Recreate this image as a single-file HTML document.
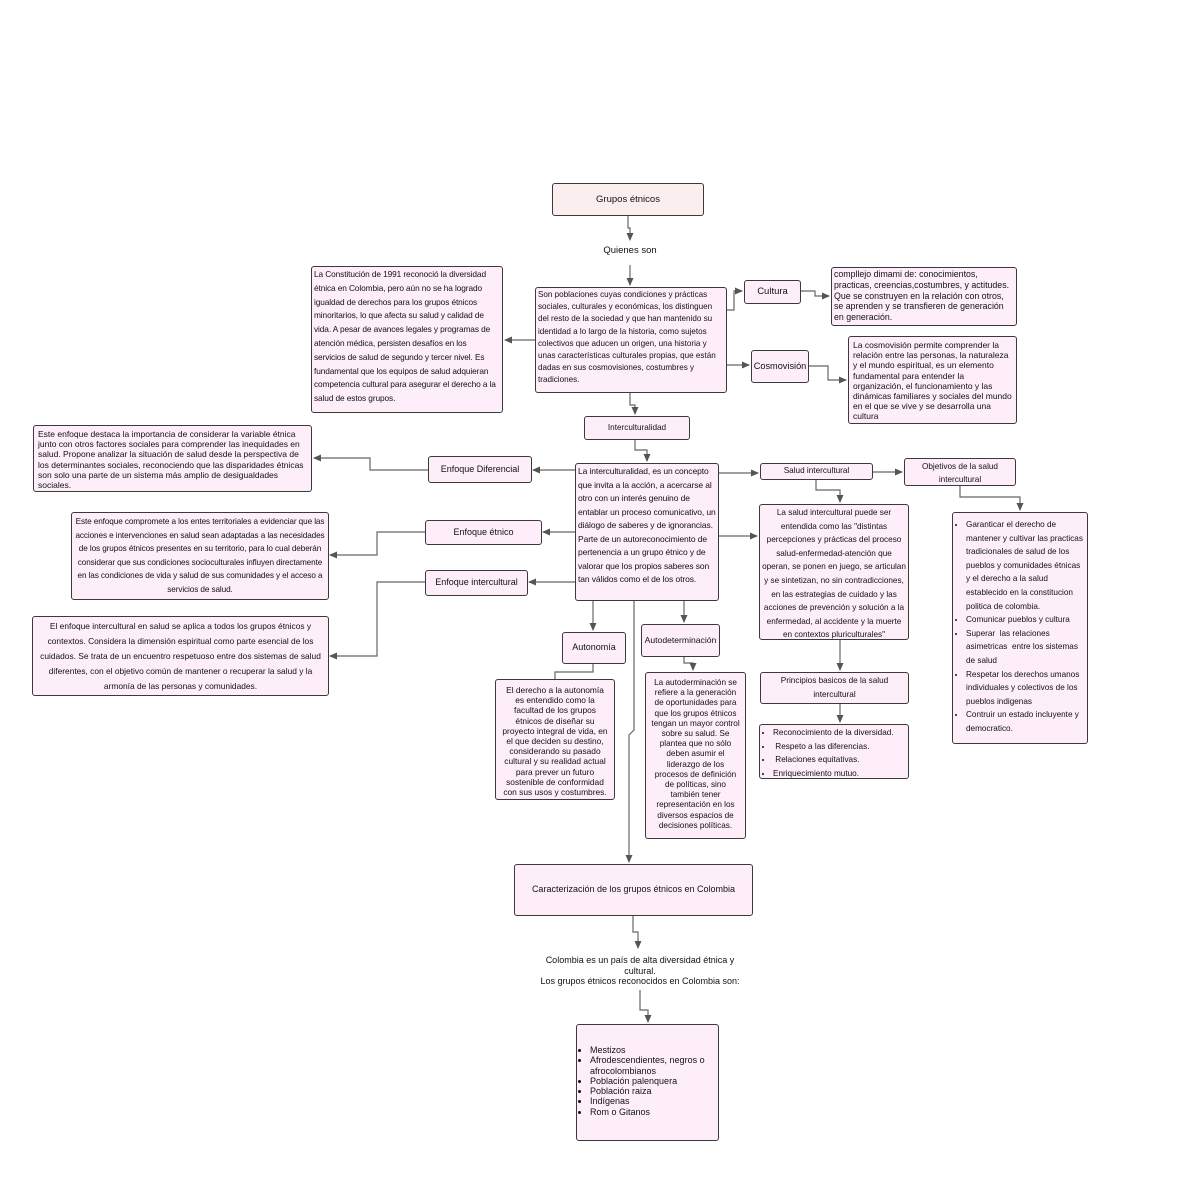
<!DOCTYPE html>
<html><head><meta charset="utf-8"><style>
body{margin:0;width:1200px;height:1200px;background:#fff;position:relative;font-family:"Liberation Sans",sans-serif;color:#111;overflow:hidden}
.b{position:absolute;box-sizing:border-box;background:#fdeefa;border:1.3px solid #3a3a3a;border-radius:3px;font-size:8.2px;line-height:13.6px;padding:1px 2px;overflow:hidden}
.c{text-align:center}
.m{display:flex;align-items:center;justify-content:center;text-align:center}
.t{position:absolute;font-size:9px;text-align:center}
ul{margin:0;padding-left:11px}
svg{position:absolute;left:0;top:0}
</style></head><body>
<svg width="1200" height="1200">
<defs><marker id="a" markerWidth="8" markerHeight="8" refX="7" refY="4" orient="auto" markerUnits="userSpaceOnUse"><path d="M0,0.5 L8,4 L0,7.5Z" fill="#555"/></marker></defs>
<g fill="none" stroke="#666" stroke-width="1.2" marker-end="url(#a)">
<path d="M628,215 V228 H630 V240"/>
<path d="M630,265 V285"/>
<path d="M535,340 H505"/>
<path d="M726,310 H734 V291 H742"/>
<path d="M726,365 H749"/>
<path d="M800,291 H815 V296 H829"/>
<path d="M808,366 H828 V380 H846"/>
<path d="M630,392 V405 H635 V414"/>
<path d="M635,439 V450 H647 V461"/>
<path d="M575,470 H533"/>
<path d="M428,470 H370 V458 H314"/>
<path d="M718,473 H758"/>
<path d="M872,472 H902"/>
<path d="M816,479 V490 H840 V502"/>
<path d="M960,485 V497 H1020 V510"/>
<path d="M718,536 H757"/>
<path d="M575,532 H543"/>
<path d="M425,532 H377 V555 H330"/>
<path d="M575,582 H529"/>
<path d="M425,582 H377 V656 H330"/>
<path d="M593,600 V630"/>
<path d="M684,600 V622"/>
<path d="M684,656 V663 H693 V670"/>
<path d="M840,639 V670"/>
<path d="M840,703 V722"/>
<path d="M634,600 V730 L629,735 V862"/>
<path d="M633,915 V932 H638 V948"/>
<path d="M640,990 V1010 H648 V1022"/>
</g>
<path d="M593,663 V672 H555 V679" fill="none" stroke="#666" stroke-width="1.2"/>
</svg>

<div class="b m" style="left:552px;top:183px;width:152px;height:33px;background:#fbeeee;font-size:9.5px">Grupos étnicos</div>
<div class="t" style="left:580px;top:245px;width:100px;font-size:9.5px">Quienes son</div>
<div class="b" style="left:535px;top:287px;width:192px;height:106px;font-size:8.1px;line-height:12.2px">Son poblaciones cuyas condiciones y prácticas sociales, culturales y económicas, los distinguen del resto de la sociedad y que han mantenido su identidad a lo largo de la historia, como sujetos colectivos que aducen un origen, una historia y unas características culturales propias, que están dadas en sus cosmovisiones, costumbres y tradiciones.</div>
<div class="b" style="left:311px;top:266px;width:192px;height:147px;font-size:8.3px;line-height:13.8px;letter-spacing:-0.1px">La Constitución de 1991 reconoció la diversidad étnica en Colombia, pero aún no se ha logrado igualdad de derechos para los grupos étnicos minoritarios, lo que afecta su salud y calidad de vida. A pesar de avances legales y programas de atención médica, persisten desafíos en los servicios de salud de segundo y tercer nivel. Es fundamental que los equipos de salud adquieran competencia cultural para asegurar el derecho a la salud de estos grupos.</div>
<div class="b m" style="left:744px;top:280px;width:57px;height:24px;font-size:9.5px">Cultura</div>
<div class="b" style="left:831px;top:267px;width:186px;height:59px;font-size:8.8px;line-height:10.8px">compllejo dimami de: conocimientos, practicas, creencias,costumbres, y actitudes. Que se construyen en la relación con otros, se aprenden y se transfieren de generación en generación.</div>
<div class="b m" style="left:751px;top:350px;width:58px;height:33px;font-size:9.2px">Cosmovisión</div>
<div class="b" style="left:848px;top:336px;width:169px;height:88px;line-height:10.2px;padding:3px 4px;font-size:8.5px">La cosmovisión permite comprender la relación entre las personas, la naturaleza y el mundo espiritual, es un elemento fundamental para entender la organización, el funcionamiento y las dinámicas familiares y sociales del mundo en el que se vive y se desarrolla una cultura</div>
<div class="b m" style="left:584px;top:416px;width:106px;height:24px">Interculturalidad</div>
<div class="b m" style="left:428px;top:456px;width:104px;height:27px;font-size:9px">Enfoque Diferencial</div>
<div class="b" style="left:33px;top:425px;width:279px;height:67px;line-height:10.2px;padding:3px 4px;font-size:8.5px">Este enfoque destaca la importancia de considerar la variable étnica junto con otros factores sociales para comprender las inequidades en salud. Propone analizar la situación de salud desde la perspectiva de los determinantes sociales, reconociendo que las disparidades étnicas son solo una parte de un sistema más amplio de desigualdades sociales.</div>
<div class="b" style="left:575px;top:463px;width:144px;height:138px;font-size:8.5px;line-height:13.5px;letter-spacing:-0.1px">La interculturalidad, es un concepto que invita a la acción, a acercarse al otro con un interés genuino de entablar un proceso comunicativo, un diálogo de saberes y de ignorancias. Parte de un autoreconocimiento de pertenencia a un grupo étnico y de valorar que los propios saberes son tan válidos como el de los otros.</div>
<div class="b c" style="left:760px;top:463px;width:113px;height:17px;line-height:12px">Salud intercultural</div>
<div class="b c" style="left:904px;top:458px;width:112px;height:28px;line-height:13px">Objetivos de la salud intercultural</div>
<div class="b" style="left:952px;top:512px;width:136px;height:232px;line-height:13.6px;padding:5px 2px;font-size:8.2px"><ul><li>Garanticar el derecho de mantener y cultivar las practicas tradicionales de salud de los pueblos y comunidades étnicas y el derecho a la salud establecido en la constitucion politica de colombia.</li><li>Comunicar pueblos y cultura</li><li>Superar &nbsp;las relaciones asimetricas &nbsp;entre los sistemas de salud</li><li>Respetar los derechos umanos individuales y colectivos de los pueblos indigenas</li><li>Contruir un estado incluyente y democratico.</li></ul></div>
<div class="b c" style="left:759px;top:504px;width:150px;height:136px;line-height:13.6px;font-size:8.2px;padding:1px 2px;overflow:visible">La salud intercultural puede ser entendida como las "distintas percepciones y prácticas del proceso salud-enfermedad-atención que operan, se ponen en juego, se articulan y se sintetizan, no sin contradicciones, en las estrategias de cuidado y las acciones de prevención y solución a la enfermedad, al accidente y la muerte en contextos pluriculturales"</div>
<div class="b c" style="left:760px;top:672px;width:149px;height:32px;line-height:13.6px">Principios basicos de la salud intercultural</div>
<div class="b" style="left:759px;top:724px;width:150px;height:55px;line-height:13.6px"><ul><li>Reconocimiento de la diversidad.</li><li>&nbsp;Respeto a las diferencias.</li><li>&nbsp;Relaciones equitativas.</li><li>Enriquecimiento mutuo.</li></ul></div>
<div class="b m" style="left:425px;top:520px;width:117px;height:25px;font-size:9px">Enfoque étnico</div>
<div class="b c" style="left:71px;top:512px;width:258px;height:88px;line-height:13.6px;padding:2px 2px;font-size:8.2px;letter-spacing:-0.1px">Este enfoque compromete a los entes territoriales a evidenciar que las acciones e intervenciones en salud sean adaptadas a las necesidades de los grupos étnicos presentes en su territorio, para lo cual deberán considerar que sus condiciones socioculturales influyen directamente en las condiciones de vida y salud de sus comunidades y el acceso a servicios de salud.</div>
<div class="b m" style="left:425px;top:570px;width:103px;height:26px;font-size:9px">Enfoque intercultural</div>
<div class="b c" style="left:32px;top:616px;width:297px;height:80px;line-height:15px;padding:2px 3px;font-size:8.4px">El enfoque intercultural en salud se aplica a todos los grupos étnicos y contextos. Considera la dimensión espiritual como parte esencial de los cuidados. Se trata de un encuentro respetuoso entre dos sistemas de salud diferentes, con el objetivo común de mantener o recuperar la salud y la armonía de las personas y comunidades.</div>
<div class="b m" style="left:562px;top:632px;width:64px;height:32px;font-size:9px">Autonomía</div>
<div class="b c" style="left:495px;top:679px;width:120px;height:121px;line-height:10.2px;padding:5px 5px;font-size:8.4px">El derecho a la autonomía es entendido como la facultad de los grupos étnicos de diseñar su proyecto integral de vida, en el que deciden su destino, considerando su pasado cultural y su realidad actual para prever un futuro sostenible de conformidad con sus usos y costumbres.</div>
<div class="b m" style="left:641px;top:624px;width:79px;height:33px;font-size:8.6px">Autodeterminación</div>
<div class="b c" style="left:645px;top:672px;width:101px;height:167px;line-height:10.2px;padding:5px 5px">La autoderminación se refiere a la generación de oportunidades para que los grupos étnicos tengan un mayor control sobre su salud. Se plantea que no sólo deben asumir el liderazgo de los procesos de definición de políticas, sino también tener representación en los diversos espacios de decisiones políticas.</div>
<div class="b m" style="left:514px;top:864px;width:239px;height:52px;font-size:9px">Caracterización de los grupos étnicos en Colombia</div>
<div class="t" style="left:540px;top:955px;width:200px;line-height:10.5px">Colombia es un país de alta diversidad étnica y cultural.<br>Los grupos étnicos reconocidos en Colombia son:</div>
<div class="b" style="left:576px;top:1024px;width:143px;height:117px;font-size:9px;line-height:10.3px;padding:20px 3px 3px"><ul style="padding-left:10px"><li>Mestizos</li><li>Afrodescendientes, negros o afrocolombianos</li><li>Población palenquera</li><li>Población raiza</li><li>Indígenas</li><li>Rom o Gitanos</li></ul></div>
</body></html>
